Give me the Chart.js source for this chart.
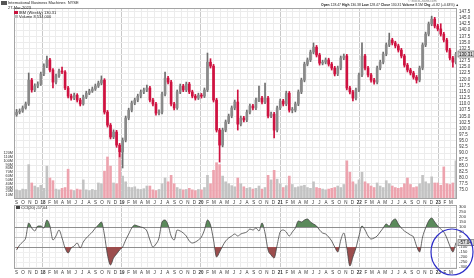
<!DOCTYPE html>
<html>
<head>
<meta charset="utf-8">
<script src="https://cdn.jsdelivr.net/npm/chart.js@4"></script>
<style>
  html, body { margin: 0; padding: 0; background: #fff; }
  #wrap { position: relative; width: 474px; height: 278px; overflow: hidden;
          font-family: "Liberation Sans", Arial, sans-serif; }
  canvas { position: absolute; left: 0; }
  #cPrice { top: 0; }
  #cCci { top: 199px; }
  .t { position: absolute; font-size: 4px; line-height: 5px; color: #222; white-space: nowrap; }
  .t b { font-weight: bold; }
  .sq { display: inline-block; width: 4px; height: 3px; margin-right: 1px; vertical-align: middle; }
</style>
</head>
<body>
<div id="wrap">
  <canvas id="cPrice" width="474" height="208"></canvas>
  <canvas id="cCci" width="474" height="79"></canvas>

  <div class="t" style="left:1px;top:0px;"><span class="sq" style="background:#555;width:6px;height:4px;"></span>International Business Machines&nbsp; NYSE</div>
  <div class="t" style="left:8px;top:5px;">27-Mar-2023</div>
  <div class="t" style="left:14px;top:10px;"><span class="sq" style="background:#c8123c;"></span>IBM (Weekly) 130.31</div>
  <div class="t" style="left:14px;top:14px;"><span class="sq" style="background:#bbb;"></span>Volume 8,534,000</div>
  <div class="t" style="left:408px;top:-1px;color:#777;font-size:3.3px;">© StockCharts.com</div>
  <div class="t" style="left:321px;top:3px;font-size:3.4px;"><b>Open</b> 128.47 <b>High</b> 130.38 <b>Low</b> 128.47 <b>Close</b> 130.31 <b>Volume</b> 8.5M <b>Chg</b> +0.82 (+0.63%) ▲</div>
  <div class="t" style="left:16px;top:205px;"><span class="sq" style="background:#444;"></span>CCI(20) -57.04</div>
</div>

<script>
/* ── data: IBM two-week candles, Sep 2017 – Mar 2023 ─────────────────── */
const open = [
  105.6,106.7,107.1,108.4,110.0,119.7,115.7,117.3,118.1,122.2,
  125.4,127.9,123.8,118.9,121.4,123.4,123.0,116.5,113.2,112.4,
  113.6,111.6,110.0,112.8,114.4,115.3,116.1,117.3,118.5,119.7,
  106.7,101.4,96.6,98.6,93.3,90.5,95.3,104.3,107.5,110.4,
  111.6,113.2,114.9,115.7,116.5,111.6,110.0,106.3,106.7,114.0,
  120.5,118.9,110.0,108.4,114.9,117.3,115.7,118.1,114.9,113.2,
  112.4,113.6,113.2,115.7,127.0,125.4,111.6,99.4,93.3,99.4,
  102.7,105.1,108.4,110.8,101.8,104.3,103.5,106.7,109.2,108.4,
  111.6,112.4,110.8,112.4,105.1,105.9,99.4,108.4,111.2,110.0,
  114.4,107.5,107.5,110.0,114.9,119.7,126.2,127.9,131.1,133.1,
  129.9,126.6,127.0,127.9,126.2,124.6,122.2,124.6,128.7,129.5,
  116.5,114.9,112.4,115.7,121.8,129.5,124.6,121.8,119.7,118.9,
  124.6,127.0,130.3,134.0,136.0,134.8,133.6,131.9,129.5,125.8,
  123.8,122.6,120.9,119.7,124.6,134.0,138.4,142.5,144.5,141.7,
  140.5,138.4,136.0,131.9,128.7,127.0
];
const high = [
  107.8,108.0,109.2,110.8,122.6,120.4,118.2,119.0,123.0,126.3,
  129.5,128.6,124.4,122.2,124.2,125.0,123.6,117.2,114.0,114.4,
  114.2,112.3,113.6,115.2,116.0,116.9,118.1,119.3,121.4,120.3,
  107.4,102.1,99.5,99.3,94.0,96.2,105.1,108.3,111.2,112.4,
  114.0,115.7,116.5,117.7,117.2,112.3,110.7,107.6,114.8,123.0,
  121.2,119.6,110.7,115.7,118.1,118.0,118.9,118.8,115.6,113.9,
  114.4,114.3,116.5,130.7,128.4,126.1,112.3,100.1,100.2,103.5,
  105.9,109.2,111.6,115.7,105.1,105.0,107.5,110.0,109.9,112.4,
  117.3,113.1,118.5,113.1,106.7,106.6,109.2,112.0,111.9,115.2,
  115.1,108.6,110.8,115.7,120.5,127.0,128.7,131.9,134.8,133.8,
  130.6,127.8,128.7,128.6,126.9,125.3,125.4,129.5,130.3,130.2,
  117.2,115.6,116.5,122.6,134.8,130.2,125.3,122.5,120.4,125.4,
  127.8,131.1,134.8,138.8,136.7,135.5,134.3,132.6,130.2,126.5,
  124.5,123.3,121.6,125.4,134.8,139.2,143.3,145.7,145.2,142.4,
  142.6,139.1,136.7,132.6,129.4,131.0
];
const low = [
  105.0,106.0,106.6,107.9,109.4,114.8,115.0,116.6,117.5,121.5,
  124.8,123.0,116.5,118.2,120.8,122.3,115.8,112.5,111.6,111.8,
  110.8,109.2,109.5,112.2,113.8,114.7,115.5,116.7,117.8,105.9,
  100.6,95.8,95.9,92.4,88.5,84.0,94.6,103.6,106.8,109.7,
  110.9,112.5,114.2,115.0,110.8,109.2,105.5,105.6,106.0,113.3,
  118.2,109.2,107.6,107.8,114.2,115.0,115.0,114.2,112.5,111.6,
  111.8,112.4,112.6,115.0,124.6,110.8,98.6,86.4,92.6,98.7,
  102.0,104.4,107.7,99.4,101.1,102.7,102.8,106.0,107.6,107.7,
  110.9,110.0,110.1,104.3,104.4,96.2,98.7,107.7,109.2,109.3,
  106.7,106.4,106.8,109.3,114.2,119.0,125.5,127.2,130.4,129.1,
  125.8,125.9,126.3,125.4,123.8,121.4,121.5,123.9,128.0,115.7,
  114.1,111.2,111.7,115.0,121.1,123.8,121.0,118.9,118.1,118.2,
  123.9,126.3,129.6,133.3,134.0,132.8,131.1,128.7,125.0,123.0,
  121.8,120.1,118.5,119.0,123.9,133.3,137.7,141.8,140.9,139.7,
  137.6,135.2,131.1,127.9,125.0,126.3
];
const close = [
  106.7,107.1,108.4,110.0,119.7,115.7,117.3,118.1,122.2,125.4,
  127.9,123.8,118.9,121.4,123.4,123.0,116.5,113.2,112.4,113.6,
  111.6,110.0,112.8,114.4,115.3,116.1,117.3,118.5,119.7,106.7,
  101.4,96.6,98.6,93.3,90.5,95.3,104.3,107.5,110.4,111.6,
  113.2,114.9,115.7,116.5,111.6,110.0,106.3,106.7,114.0,120.5,
  118.9,110.0,108.4,114.9,117.3,115.7,118.1,114.9,113.2,112.4,
  113.6,113.2,115.7,127.0,125.4,111.6,99.4,93.3,99.4,102.7,
  105.1,108.4,110.8,101.8,104.3,103.5,106.7,109.2,108.4,111.6,
  112.4,110.8,112.4,105.1,105.9,99.4,108.4,111.2,110.0,114.4,
  107.5,107.5,110.0,114.9,119.7,126.2,127.9,131.1,133.1,129.9,
  126.6,127.0,127.9,126.2,124.6,122.2,124.6,128.7,129.5,116.5,
  114.9,112.4,115.7,121.8,129.5,124.6,121.8,119.7,118.9,124.6,
  127.0,130.3,134.0,136.0,134.8,133.6,131.9,129.5,125.8,123.8,
  122.6,120.9,119.7,124.6,134.0,138.4,142.5,144.5,141.7,140.5,
  138.4,136.0,131.9,128.7,127.0,130.31
];
// millions of shares
const volume = [
  24,22,26,25,90,42,34,30,36,28,
  86,55,48,26,24,28,30,78,24,22,
  26,24,50,24,22,25,23,42,40,73,
  110,86,42,40,120,60,45,31,30,32,
  26,25,27,34,34,24,22,25,40,55,
  45,62,40,30,26,24,25,28,24,22,
  25,24,30,62,40,75,95,90,60,45,
  40,35,32,55,40,32,28,30,26,28,
  34,26,30,62,50,75,52,40,30,35,
  60,38,30,32,34,36,30,28,45,30,
  28,26,24,26,28,30,34,30,38,100,
  70,45,38,50,70,45,40,34,30,42,
  34,30,48,40,34,30,28,30,40,55,
  38,30,32,40,62,45,40,58,42,42,
  36,84,40,38,42,100
];
const cci = [
  -130,-80,-50,-10,140,90,60,110,110,90,
  170,110,-30,10,70,-10,-110,-160,-110,-90,
  -60,-110,-50,-10,20,50,90,120,150,20,
  -180,-280,-210,-170,-130,-100,-30,30,90,120,
  110,100,90,60,-30,-100,-70,-10,150,170,
  120,10,-30,70,60,40,10,-40,-60,-50,
  -30,0,70,170,120,-30,-200,-150,-90,-40,
  -10,10,30,10,30,40,50,80,70,90,
  60,140,40,-130,-180,-210,-80,50,70,50,
  10,50,90,160,150,170,180,150,130,110,
  70,40,30,0,-40,-100,-150,-30,40,-110,
  -290,-200,-110,10,110,70,10,-20,-10,10,
  50,90,130,110,160,180,130,90,60,40,
  20,0,-90,-150,0,90,160,190,150,110,
  80,50,-10,-90,-150,-57.04
];
const priceTicks = [75,77.5,80,82.5,85,87.5,90,92.5,95,97.5,100,102.5,105,107.5,110,
  112.5,115,117.5,120,122.5,125,127.5,130,132.5,135,137.5,140,142.5,145,147.5];
const volTicks = [10,20,30,40,50,60,70,80,90,100,110,120];
const cciTicks = [-300,-250,-200,-150,-100,-50,0,50,100,150,200,250,300];
const MONTHS = ['J','F','M','A','M','J','J','A','S','O','N','D'];

/* ── time axis: days since 1 Sep 2017 ──────────────────────────────────── */
const DAY = 86400000;
const START = Date.UTC(2017, 8, 1);
const days = close.map((_, i) => i * 14);
const monthTicks = [];
for (let k = 0; k < 67; k++) {
  const y = 2017 + Math.floor((8 + k) / 12), m = (8 + k) % 12;
  monthTicks.push({ value: (Date.UTC(y, m, 1) - START) / DAY,
                    txt: m === 0 ? String(y).slice(2) : MONTHS[m], major: m === 0 });
}

const FAM = '"Liberation Sans", Arial, sans-serif';
const RED = '#cf1240', GREY = '#8a8a8a';
const isDown = i => close[i] < (i ? close[i - 1] : open[i]);
const bodyCol = close.map((_, i) => isDown(i) ? RED : GREY);
const wickCol = close.map((_, i) => isDown(i) ? RED : '#6e6e6e');
const volCol  = close.map((_, i) => isDown(i) ? '#eda3ae' : '#c3c3c3');

const xAxis = () => ({
  type: 'linear', min: -12, max: 2035, offset: false,
  afterBuildTicks: s => { s.ticks = monthTicks.map(t => ({ ...t })); },
  afterFit: s => { s.height = 9; },
  ticks: { autoSkip: false, maxRotation: 0, padding: 1, color: '#333',
           font: c => ({ family: FAM, size: 4.5, weight: c.tick && c.tick.major ? 'bold' : 'normal' }),
           callback: (v, i, t) => t[i].txt },
  grid: { offset: false, drawTicks: false, lineWidth: 1,
          color: c => c.tick && c.tick.major ? '#c9c9c9' : '#ececec' },
  border: { display: false },
});

/* ── plugins ─────────────────────────────────────────────────────────── */
const frame = {
  id: 'frame',
  afterDraw(chart) {
    const { ctx, chartArea: a } = chart;
    ctx.save();
    ctx.strokeStyle = '#a4a4a4'; ctx.lineWidth = 1;
    ctx.strokeRect(Math.round(a.left) + 0.5, Math.round(a.top) + 0.5,
                   Math.round(a.right - a.left) - 1, Math.round(a.bottom - a.top) - 1);
    ctx.restore();
  }
};
const lastBox = {
  id: 'lastBox',
  afterDraw(chart, args, o) {
    const s = chart.scales[o.axis], ctx = chart.ctx;
    const y = s.getPixelForValue(o.value);
    ctx.save();
    ctx.fillStyle = '#dcdcdc'; ctx.strokeStyle = '#555'; ctx.lineWidth = 0.6;
    ctx.fillRect(s.left + 1, y - 3, 16, 6);
    ctx.strokeRect(s.left + 1, y - 3, 16, 6);
    ctx.fillStyle = '#000'; ctx.font = '4.5px ' + FAM; ctx.textBaseline = 'middle';
    ctx.fillText(o.text, s.left + 2, y + 0.3);
    ctx.restore();
  }
};
const circle = {
  id: 'circle',
  afterDraw(chart) {
    const ctx = chart.ctx;
    ctx.save();
    ctx.strokeStyle = '#2d2dc8'; ctx.lineWidth = 1.2;
    ctx.beginPath();
    ctx.ellipse(452, 53, 21, 23, 0, 0, Math.PI * 2);
    ctx.stroke();
    ctx.restore();
  }
};

/* ── price + volume ──────────────────────────────────────────────────── */
new Chart(document.getElementById('cPrice'), {
  type: 'bar',
  data: {
    datasets: [
      { label: 'Volume', yAxisID: 'yVol', order: 3, grouped: false, barThickness: 2,
        data: days.map((d, i) => ({ x: d, y: volume[i] })), backgroundColor: volCol },
      { label: 'Range', yAxisID: 'y', order: 2, grouped: false, barThickness: 1,
        data: days.map((d, i) => ({ x: d, y: [low[i], high[i]] })), backgroundColor: wickCol },
      { label: 'IBM', yAxisID: 'y', order: 1, grouped: false, barThickness: 2, minBarLength: 1,
        data: days.map((d, i) => ({ x: d, y: [open[i], close[i]] })), backgroundColor: bodyCol },
    ],
  },
  options: {
    responsive: false, animation: false,
    layout: { padding: { top: 8, left: 0, right: 0, bottom: 0 } },
    plugins: { legend: { display: false }, tooltip: { enabled: false },
               lastBox: { axis: 'y', value: close[close.length - 1], text: '130.31' } },
    scales: {
      x: xAxis(),
      y: {
        type: 'linear', position: 'right', min: 71.4, max: 149,
        afterBuildTicks: s => { s.ticks = priceTicks.map(v => ({ value: v })); },
        afterFit: s => { s.width = 17; },
        ticks: { autoSkip: false, padding: 2, color: '#333', font: { family: FAM, size: 4.5 },
                 callback: v => v.toFixed(1) },
        grid: { color: '#ececec', drawTicks: false },
        border: { display: false },
      },
      yVol: {
        type: 'linear', position: 'left', min: 0, max: 500,
        afterBuildTicks: s => { s.ticks = volTicks.map(v => ({ value: v })); },
        afterFit: s => { s.width = 14; },
        ticks: { autoSkip: false, padding: 1, color: '#333', font: { family: FAM, size: 3.8 },
                 callback: v => v + 'M' },
        grid: { drawOnChartArea: false, drawTicks: false },
        border: { display: false },
      },
    },
  },
  plugins: [frame, lastBox],
});

/* ── CCI(20) ─────────────────────────────────────────────────────────── */
const cciPts = days.map((d, i) => ({ x: d, y: cci[i] }));
new Chart(document.getElementById('cCci'), {
  type: 'line',
  data: {
    datasets: [
      { data: cciPts, order: 2, borderWidth: 0, pointRadius: 0, cubicInterpolationMode: 'monotone',
        fill: { target: { value: 100 }, above: '#5b8a5b', below: 'rgba(0,0,0,0)' } },
      { data: cciPts, order: 2, borderWidth: 0, pointRadius: 0, cubicInterpolationMode: 'monotone',
        fill: { target: { value: -100 }, above: 'rgba(0,0,0,0)', below: '#9c4d4d' } },
      { data: cciPts, order: 1, borderColor: '#444', borderWidth: 0.8, pointRadius: 0,
        cubicInterpolationMode: 'monotone', fill: false },
    ],
  },
  options: {
    responsive: false, animation: false,
    layout: { padding: { top: 6, left: 14, right: 0, bottom: 0 } },
    plugins: { legend: { display: false }, tooltip: { enabled: false },
               lastBox: { axis: 'y', value: cci[cci.length - 1], text: '-57.04' } },
    scales: {
      x: xAxis(),
      y: {
        type: 'linear', position: 'right', min: -320, max: 320,
        afterBuildTicks: s => { s.ticks = cciTicks.map(v => ({ value: v })); },
        afterFit: s => { s.width = 17; },
        ticks: { autoSkip: false, padding: 2, color: '#333', font: { family: FAM, size: 4.2 } },
        grid: { drawTicks: false,
                color: c => Math.abs(c.tick.value) === 100 ? '#8e8e8e' : c.tick.value === 0 ? '#c4c4c4' : '#f0f0f0' },
        border: { display: false },
      },
    },
  },
  plugins: [frame, lastBox, circle],
});
</script>
</body>
</html>
